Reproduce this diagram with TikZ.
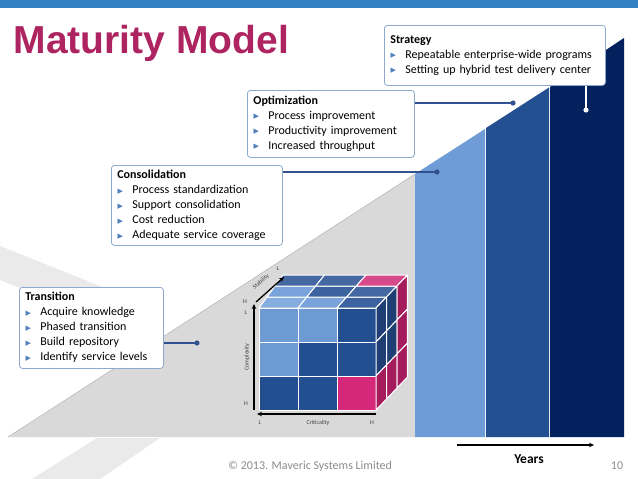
\documentclass[tikz,border=0pt]{standalone}
\usepackage{fontspec}
\setmainfont{Carlito}
\newfontfamily\titlefont{Liberation Sans}
\newfontfamily\symfont{DejaVu Sans}
\usetikzlibrary{arrows.meta}
\definecolor{topbar}{HTML}{3481C2}
\definecolor{titlec}{HTML}{AD2461}
\definecolor{grayA}{HTML}{D9D9D9}
\definecolor{grayB}{HTML}{EAEAEA}
\definecolor{barL}{HTML}{6F9CD6}
\definecolor{barM}{HTML}{244F90}
\definecolor{barD}{HTML}{03215C}
\definecolor{boxline}{HTML}{8EA9CC}
\definecolor{conn}{HTML}{2F528F}
\definecolor{bulc}{HTML}{4F81BD}
\definecolor{footc}{HTML}{8C8C8C}
\definecolor{cLf}{HTML}{6E9AD4}
\definecolor{cDf}{HTML}{234F90}
\definecolor{cPf}{HTML}{D6287A}
\definecolor{cTa}{HTML}{86ADE0}
\definecolor{cTb}{HTML}{7BA3DB}
\definecolor{cTm}{HTML}{4568A3}
\definecolor{cTd}{HTML}{3D62A0}
\definecolor{cTp}{HTML}{D6498A}
\definecolor{cRn}{HTML}{1F3F74}
\definecolor{cRp}{HTML}{A51C5C}
\newcommand\bul{\makebox[15pt][l]{\hspace{0.3pt}\raisebox{0.4pt}{\symfont\fontsize{7}{7}\selectfont\textcolor{bulc}{▶}}}}
\newcommand\cubept[3]{({259+39*(#1)+(#3)*(8+0.833*(#1))},{410-34*(#2)-11*(#3)})}
\tikzset{
  infobox/.style={draw=boxline, line width=0.8pt, fill=white, rounded corners=3pt,
    anchor=north west, inner xsep=6pt, inner ysep=0pt, align=left,
    font=\fontsize{12}{15}\selectfont},
  connline/.style={draw=conn, line width=1.4pt},
  axisarrow/.style={draw=black, line width=1.3pt, -{Stealth[length=5pt,width=4.5pt]}},
  cubelabel/.style={inner sep=0pt, font=\fontsize{6}{7}\selectfont, text=black!75},
  cell/.style={fill=#1, draw=white, line width=1pt, line join=round}
}
\begin{document}
\begin{tikzpicture}[x=1pt,y=-1pt]
\useasboundingbox (0,0) rectangle (638,479);
\fill[white] (0,0) rectangle (638,479);
% top bar
\fill[topbar] (0,0) rectangle (638,8);
% background shapes
\fill[grayB] (0,246) -- (160,310) -- (140,336) -- (0,280) -- cycle;
\fill[grayB] (97,438) -- (160,438) -- (100,479) -- (32,479) -- cycle;
\fill[grayA] (8,437) -- (415,174) -- (415,437) -- cycle;
\draw[gray!65, line width=0.4pt] (8,437) -- (415,174);
% bars
\fill[barL] (415,437) -- (415,174) -- (485,129) -- (485,437) -- cycle;
\fill[barM] (486,437) -- (486,128) -- (549,87.5) -- (549,437) -- cycle;
\fill[barD] (550,437) -- (550,87) -- (624,38) -- (624,437) -- cycle;
% title
\node[anchor=base west, inner sep=0pt, font=\titlefont\bfseries\fontsize{39}{39}\selectfont, text=titlec] (title) at (13.5,53) {Maturity Model};
% cube: front face
\foreach \u/\v/\c in {0/2/cLf,1/2/cLf,2/2/cDf,0/1/cLf,1/1/cDf,2/1/cDf,0/0/cDf,1/0/cDf,2/0/cPf}
  \draw[cell=\c] \cubept{\u}{\v}{0} -- \cubept{\u+1}{\v}{0} -- \cubept{\u+1}{\v+1}{0} -- \cubept{\u}{\v+1}{0} -- cycle;
% top face
\foreach \u/\w/\c in {0/0/cTa,1/0/cTb,2/0/cTd,0/1/cTb,1/1/cTd,2/1/cTm,0/2/cTm,1/2/cTm,2/2/cTp}
  \draw[cell=\c] \cubept{\u}{3}{\w} -- \cubept{\u+1}{3}{\w} -- \cubept{\u+1}{3}{\w+1} -- \cubept{\u}{3}{\w+1} -- cycle;
% right face
\foreach \w/\v/\c in {0/2/cRn,1/2/cRn,2/2/cRp,0/1/cRn,1/1/cRn,2/1/cRp,0/0/cRp,1/0/cRp,2/0/cRp}
  \draw[cell=\c] \cubept{3}{\v}{\w} -- \cubept{3}{\v}{\w+1} -- \cubept{3}{\v+1}{\w+1} -- \cubept{3}{\v+1}{\w} -- cycle;
% cube axes
\coordinate (cxA) at (254,410); \coordinate (cxB) at (254,304);
\coordinate (crA) at (376,414); \coordinate (crB) at (257,414);
\coordinate (stA) at (256,302); \coordinate (stB) at (284,277);
\draw[axisarrow] (cxA) -- (cxB);
\draw[axisarrow] (crA) -- (crB);
\draw[axisarrow] (stA) -- (stB);
\node[cubelabel, rotate=90] (lcomp) at (247,357) {Complexity};
\node[cubelabel] (lcompL) at (246,313) {L};
\node[cubelabel] (lcompH) at (246,404) {H};
\node[cubelabel] (lcrit) at (318,423) {Criticality};
\node[cubelabel] (lcritL) at (260,423) {L};
\node[cubelabel] (lcritH) at (372,423) {H};
\node[cubelabel, rotate=42] (lstab) at (261,282) {Stability};
\node[cubelabel] (lstabH) at (245,302) {H};
\node[cubelabel] (lstabL) at (278,269) {L};
% boxes
\node[infobox, text width=209pt, minimum height=60pt] (strat) at (384,25)
  {\strut\textbf{Strategy}\\\bul Repeatable enterprise-wide programs\\\bul Setting up hybrid test delivery center\strut};
\node[infobox, text width=155pt, minimum height=67pt] (opt) at (247,90)
  {\strut\textbf{Optimization}\\\bul Process improvement\\\bul Productivity improvement\\\bul Increased throughput\strut};
\node[infobox, text width=159pt, minimum height=80pt] (cons) at (111,165)
  {\strut\textbf{Consolidation}\\\bul Process standardization\\\bul Support consolidation\\\bul Cost reduction\\\bul Adequate service coverage\strut};
\node[infobox, text width=132pt, minimum height=81pt] (trans) at (19,287)
  {\strut\textbf{Transition}\\\bul Acquire knowledge\\\bul Phased transition\\\bul Build repository\\\bul Identify service levels\strut};
% connectors
\coordinate (sdot) at (586,110);
\coordinate (odot) at (513,103);
\coordinate (cdot) at (437,172);
\coordinate (tdot) at (197,343);
\draw[white, line width=1.4pt] (strat.south -| sdot) -- (sdot);
\fill[white] (sdot) circle (2.6pt);
\draw[connline] (opt.east |- odot) -- (odot);
\fill[conn] (odot) circle (2.6pt);
\draw[connline] (cons.east |- cdot) -- (cdot);
\fill[conn] (cdot) circle (2.6pt);
\draw[connline] (trans.east |- tdot) -- (tdot);
\fill[conn] (tdot) circle (2.6pt);
% years
\coordinate (yA) at (457,445); \coordinate (yB) at (594,445);
\draw[axisarrow, line width=1.5pt] (yA) -- (yB);
\node[inner sep=0pt, font=\bfseries\fontsize{13.5}{14}\selectfont] (years) at (529,459) {Years};
% footer
\node[inner sep=0pt, font=\fontsize{12}{14}\selectfont, text=footc] (foot) at (310,466) {© 2013. Maveric Systems Limited};
\node[inner sep=0pt, font=\fontsize{12}{14}\selectfont, text=footc] (pnum) at (617,466) {10};
\end{tikzpicture}
\end{document}
